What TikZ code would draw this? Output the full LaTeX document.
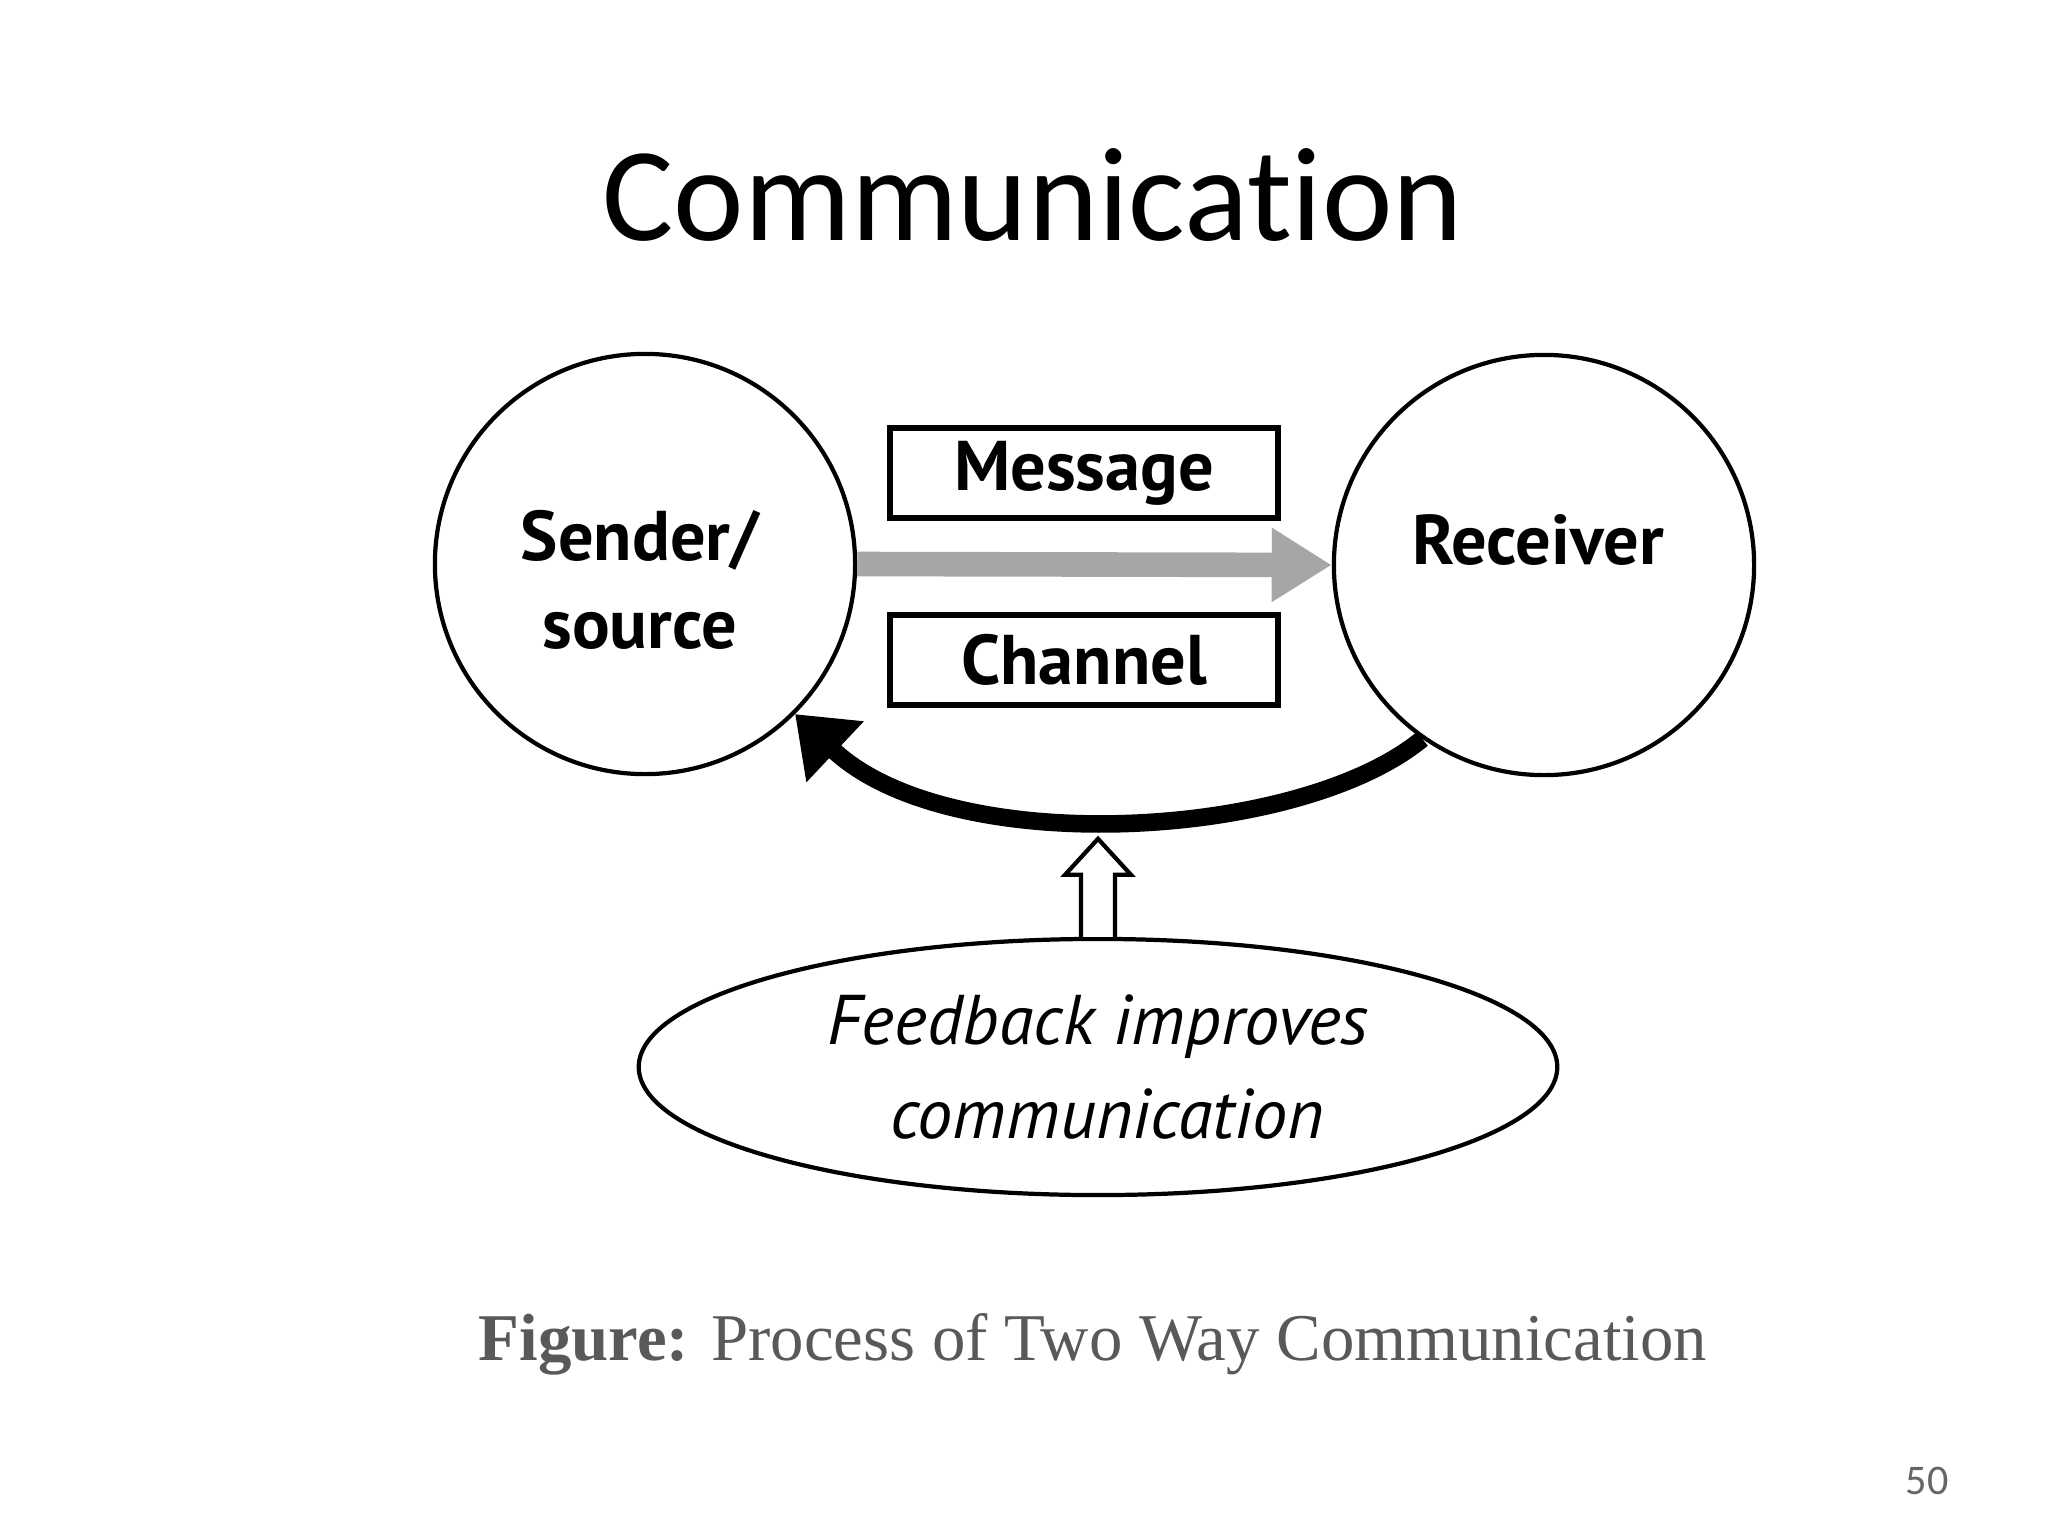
\documentclass[tikz,border=0pt]{standalone}
\usepackage{fontspec}
\setmainfont{Carlito}[Ligatures=NoCommon]
\newfontfamily\diag{PT Sans}
\newfontfamily\capf{Liberation Serif}
\usetikzlibrary{shapes.geometric,arrows.meta}
\begin{document}
\begin{tikzpicture}[x=0.01cm,y=-0.01cm,
  circ/.style={circle,draw,line width=1.2pt,minimum size=4.2cm},
  lbl/.style={font=\diag\bfseries\fontsize{20}{25}\selectfont,align=center},
  box/.style={draw,line width=1.5pt,minimum width=3.88cm,minimum height=0.9cm,font=\diag\bfseries\fontsize{20}{24}\selectfont}]
\useasboundingbox[fill=white] (0,0) rectangle (2048,1536);
\node[font=\fontsize{38}{44}\selectfont] (title) at (1033,195) {Communication};
\node[circ] (s) at (645,564) {};
\node[circ] (r) at (1544,565) {};
\node[lbl] (sl) at (640,580) {Sender/\\source};
\node[lbl] (rl) at (1538,540) {Receiver};
\node[box] (m) at (1084,473) {Message};
\node[box] (c) at (1084,660) {Channel};
\draw[line width=7pt,gray!70,-{Triangle[length=0.6cm,width=0.7cm]}] (s.east) -- (r.west);
\node[ellipse,draw,line width=1.2pt,minimum width=9.18cm,minimum height=2.56cm,align=center,
  font=\diag\itshape\fontsize{20}{27}\selectfont] (f) at (1098,1067) {Feedback improves\\ \ communication};
\draw[line width=5pt,-{Triangle[length=0.55cm,width=0.8cm]}] (r.-125) .. controls (1300,840) and (950,860) .. (s.-45);
\draw[line width=1.2pt,fill=white] (f.north) ++(-17,0) -- ++(0,-62) -- ++(-16,0) -- ++(33,-36) -- ++(33,36) -- ++(-16,0) -- ++(0,62);
\node[font=\capf\fontsize{19}{23}\selectfont,text=black!65] (cap) at (1093,1344) {\textbf{Figure:} Process of Two Way Communication};
\node[font=\fontsize{12}{14}\selectfont,text=black!60] (pg) at (1927,1481) {50};
\end{tikzpicture}
\end{document}
